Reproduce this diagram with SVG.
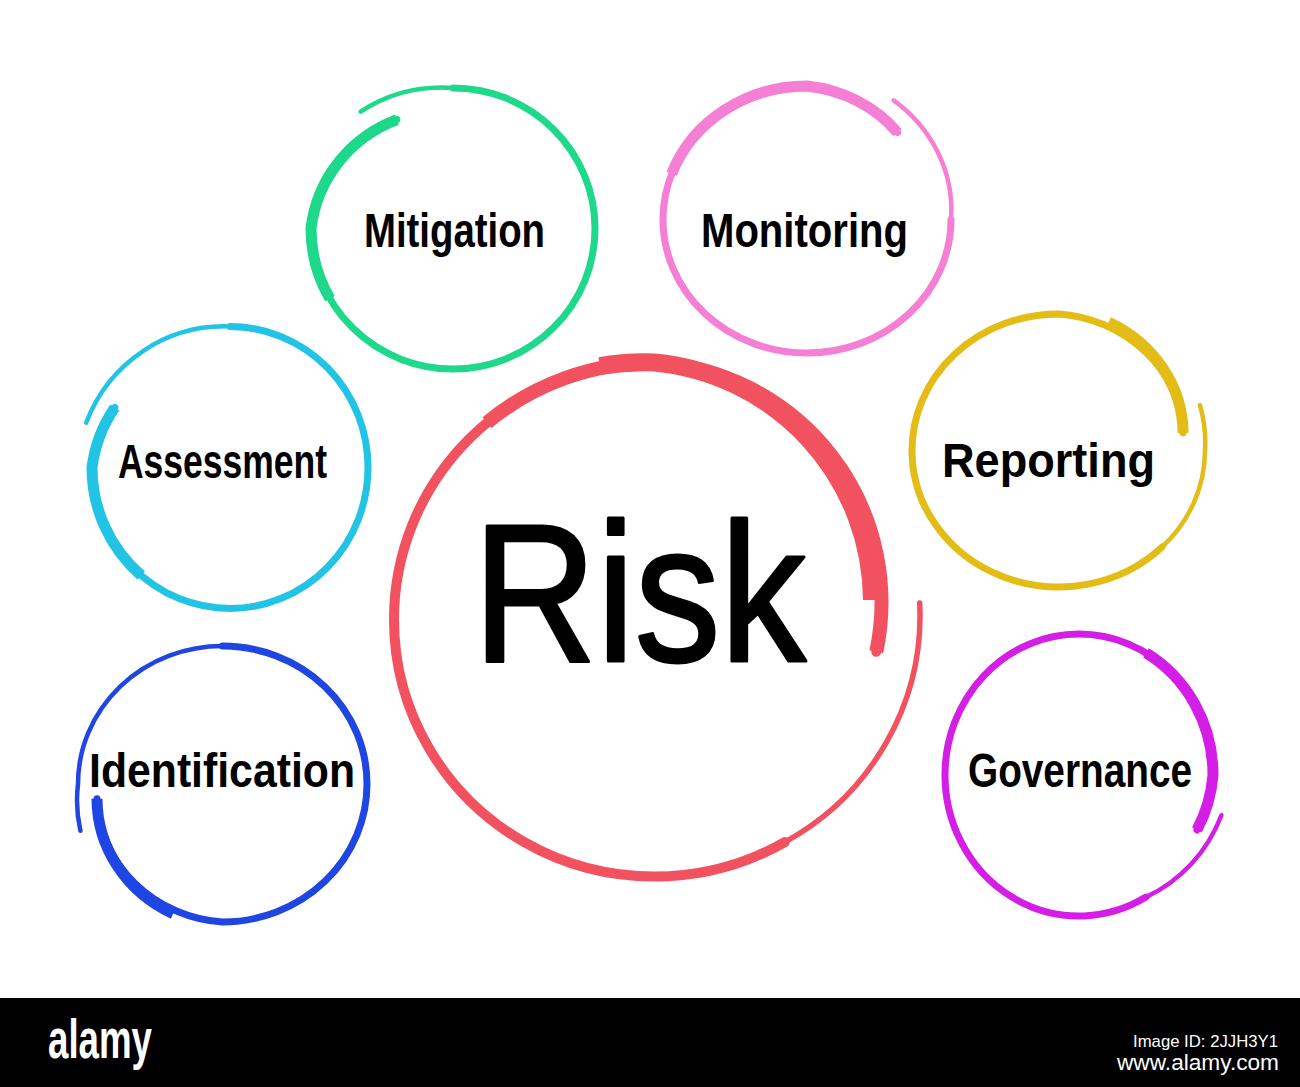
<svg xmlns="http://www.w3.org/2000/svg" width="1300" height="1087" viewBox="0 0 1300 1087">
<style>
.r{fill:none;stroke-linecap:round;stroke-linejoin:round}
.t{fill:none;stroke-linecap:butt;stroke-linejoin:round}
.w7{stroke-width:7}.w11{stroke-width:11}.w4{stroke-width:4.5}
.lbl{font-family:"Liberation Sans",Arial,sans-serif;font-weight:bold;font-size:48px;fill:#000}
.big{font-family:"Liberation Sans",Arial,sans-serif;font-weight:normal;font-size:196px;fill:#000}
.wm{font-family:"Liberation Sans",Arial,sans-serif;fill:#fff}
</style>
<rect x="0" y="0" width="1300" height="1087" fill="#fff"/>

<g id="mitigation" stroke="#1ed88b">
<path class="t w11" d="M396.9,119.6 A135,133 0 0 0 311,228.5 A142,140.5 0 0 0 330,298.8"/>
<path class="r w7" d="M396.9,119.6 A135,133 0 0 0 311,228.5 A142,140.5 0 0 0 595,228.5 A142,140.5 0 0 0 453,88"/>
<path class="r w4" d="M453,88 A148,146 0 0 0 360.6,111.6"/>
<text class="lbl" x="364" y="247" textLength="181" lengthAdjust="spacingAndGlyphs" stroke="none">Mitigation</text>
</g>

<g id="monitoring" stroke="#f47fd4">
<path class="r w4" d="M893.6,100.4 A150,139 0 0 1 951,219.5"/>
<path class="r w7" d="M951,219.5 A144,133.5 0 0 1 663,219.5 A144,133.5 0 0 1 807,86 A135,125 0 0 1 897.6,132.6"/>
<path class="t w11" d="M671.7,173.8 A144,133.5 0 0 1 807,86 A135,125 0 0 1 897.6,132.6"/>
<text class="lbl" x="701" y="247" textLength="207" lengthAdjust="spacingAndGlyphs" stroke="none">Monitoring</text>
</g>

<g id="assessment" stroke="#22c4e6">
<path class="t w11" d="M114.8,407.5 A132,135 0 0 0 92,467.5 A138,141 0 0 0 141.3,575.5"/>
<path class="r w7" d="M114.8,407.5 A132,135 0 0 0 92,467.5 A138,141 0 0 0 368,467.5 A138,141 0 0 0 230,326.5"/>
<path class="r w4" d="M230,326.5 A148,151 0 0 0 86.2,422.6"/>
<text class="lbl" x="118" y="478" textLength="209" lengthAdjust="spacingAndGlyphs" stroke="none">Assessment</text>
</g>

<g id="reporting" stroke="#e3bd16">
<path class="r w4" d="M1199.9,405.1 A150,140 0 0 1 1205,450.5 A146.5,136.5 0 0 1 1162.1,547"/>
<path class="r w7" d="M1162.1,547 A146.5,136.5 0 0 1 912,450.5 A146.5,136.5 0 0 1 1058.5,314 A135,125 0 0 1 1183.1,432.9"/>
<path class="t w11" d="M1108.6,322.2 A135,125 0 0 1 1183.1,432.9"/>
<text class="lbl" x="942" y="477" textLength="213" lengthAdjust="spacingAndGlyphs" stroke="none">Reporting</text>
</g>

<g id="identification" stroke="#1f45e3">
<path class="t w11" d="M97,798.7 A135,128 0 0 0 173.1,913.7"/>
<path class="r w7" d="M97,798.7 A135,128 0 0 0 222.5,922 A144.5,138 0 0 0 367,784 A144.5,138 0 0 0 222.5,646"/>
<path class="r w4" d="M222.5,646 A144.5,138 0 0 0 78,784 A150,143 0 0 0 80.4,830.7"/>
<text class="lbl" x="89" y="787" textLength="266" lengthAdjust="spacingAndGlyphs" stroke="none">Identification</text>
</g>

<g id="governance" stroke="#d41ee6">
<path class="r w4" d="M1221.4,815.2 A145,150 0 0 1 1146,897.1"/>
<path class="r w7" d="M1146,897.1 A134,141 0 0 1 945,775 A134,141 0 0 1 1079,634 A134,141 0 0 1 1213,775 A130,136 0 0 1 1196.9,830"/>
<path class="t w11" d="M1146,652.9 A134,141 0 0 1 1213,775 A130,136 0 0 1 1196.9,830"/>
<text class="lbl" x="968" y="787" textLength="224" lengthAdjust="spacingAndGlyphs" stroke="none">Governance</text>
</g>

<g id="risk" stroke="#f2525f">
<path class="r" stroke-width="5.5" d="M919.7,603 A262,259 0 0 1 784.8,842.1"/>
<path class="r" stroke-width="10" d="M784.8,842.1 A260.5,257 0 0 1 394,619.5 A260.5,257 0 0 1 654.5,362.5 A240,240 0 0 1 876.3,651.8"/>
<path class="t" stroke-width="14" d="M487,422.6 A260.5,257 0 0 1 654.5,362.5 A240,240 0 0 1 876.3,651.8"/>
<path class="t" stroke-width="18" d="M600,366 A260.5,257 0 0 1 654.5,362.5 A240,240 0 0 1 872,600"/>
<text class="big" x="473" y="661" textLength="333" lengthAdjust="spacingAndGlyphs" stroke="#000" stroke-width="3" stroke-linejoin="round">Risk</text>
</g>

<g id="watermark-bar">
<rect x="0" y="998" width="1300" height="89" fill="#000"/>
<text class="wm" x="48" y="1058" font-size="56" font-weight="bold" textLength="104" lengthAdjust="spacingAndGlyphs">alamy</text>
<text class="wm" x="1278" y="1047" font-size="17" text-anchor="end" textLength="145" lengthAdjust="spacingAndGlyphs">Image ID: 2JJH3Y1</text>
<text class="wm" x="1279" y="1070" font-size="22" text-anchor="end" textLength="162" lengthAdjust="spacingAndGlyphs">www.alamy.com</text>
</g>
</svg>
